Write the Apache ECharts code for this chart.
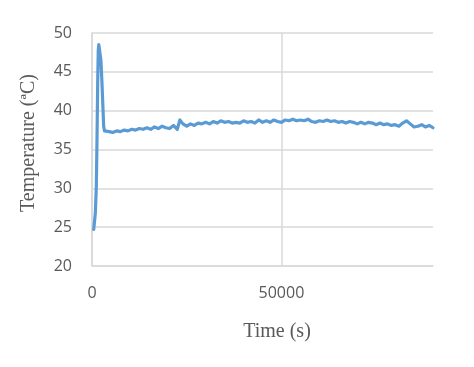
<!DOCTYPE html>
<html>
<head>
<meta charset="utf-8">
<style>html,body{margin:0;padding:0;background:#fff;}#c{width:474px;height:367px;}</style>
<script src="https://cdn.jsdelivr.net/npm/echarts@6/dist/echarts.min.js"></script>
</head>
<body>
<div id="c"></div>
<script>
const timeS = [450,880,1140,1320,1500,1650,1800,2100,2350,2640,3080,3300,3700,4500,5500,6500,7500,8500,9500,10500,11500,12500,13500,14500,15500,16500,17500,18500,19500,20500,21500,22500,23200,24000,25000,26000,27000,28000,29000,30000,31000,32000,33000,34000,35000,36000,37000,38000,39000,40000,41000,42000,43000,44000,45000,46000,47000,48000,49000,50000,51000,52000,53000,54000,55000,56000,57000,58000,59000,60000,61000,62000,63000,64000,65000,66000,67000,68000,69000,70000,71000,72000,73000,74000,75000,76000,77000,78000,79000,80000,81000,82000,83000,84000,85000,86000,87000,88000,89000,90000];
const tempC = [24.7,26.8,30.2,36.2,43.5,47.8,48.5,48.4,46.5,43.5,38.0,37.4,37.2,37.3,37.2,37.4,37.3,37.5,37.4,37.6,37.5,37.7,37.6,37.8,37.6,37.9,37.7,38.0,37.8,37.7,38.1,37.6,38.8,38.3,38.0,38.3,38.1,38.4,38.3,38.5,38.3,38.6,38.4,38.7,38.5,38.6,38.4,38.5,38.4,38.7,38.5,38.6,38.4,38.8,38.5,38.7,38.5,38.8,38.6,38.5,38.8,38.7,38.9,38.7,38.8,38.7,38.9,38.6,38.5,38.7,38.6,38.8,38.6,38.7,38.5,38.6,38.4,38.6,38.5,38.3,38.5,38.3,38.5,38.4,38.2,38.4,38.2,38.3,38.1,38.2,38.0,38.4,38.7,38.3,37.9,38.0,38.2,37.9,38.1,37.8];
const yTicks = {min: 20, max: 50, step: 5};
const xTicks = {min: 0, max: 90000, step: 50000};
const xName = 'Time (s)';
const yName = 'Temperature (ªC)';

const chart = echarts.init(document.getElementById('c'), null, {renderer: 'canvas'});
const grid = '#d9d9d9';
chart.setOption({
  animation: false,
  backgroundColor: '#ffffff',
  grid: {left: 92, right: 41, top: 33, bottom: 101, containLabel: false},
  xAxis: {
    type: 'value', min: xTicks.min, max: xTicks.max, interval: xTicks.step,
    axisLine: {show: true, lineStyle: {color: grid, width: 1.5}},
    axisTick: {show: false},
    splitLine: {show: true, showMaxLine: false, lineStyle: {color: grid, width: 1.5}},
    axisLabel: {showMaxLabel: false, margin: 19, color: '#595959', fontFamily: 'Open Sans', fontSize: 16,
                formatter: v => String(v)}
  },
  yAxis: {
    type: 'value', min: yTicks.min, max: yTicks.max, interval: yTicks.step,
    axisLine: {show: true, lineStyle: {color: grid, width: 1.5}},
    axisTick: {show: false},
    splitLine: {show: true, lineStyle: {color: grid, width: 1.5}},
    axisLabel: {margin: 20, color: '#595959', fontFamily: 'Open Sans', fontSize: 16}
  },
  graphic: [
    {type: 'text', x: 29, y: 143, rotation: Math.PI / 2,
     style: {text: yName, font: '20px "Liberation Serif"', fill: '#595959', align: 'center', verticalAlign: 'middle'}},
    {type: 'text', x: 277, y: 332,
     style: {text: xName, font: '20px "Liberation Serif"', fill: '#595959', align: 'center', verticalAlign: 'middle'}}
  ],
  series: [{
    type: 'line',
    data: timeS.map((t, i) => [t, tempC[i]]),
    showSymbol: false,
    lineStyle: {color: '#5B9BD5', width: 3.2, join: 'round', cap: 'round'},
    itemStyle: {color: '#5B9BD5'}
  }]
});
</script>
</body>
</html>
